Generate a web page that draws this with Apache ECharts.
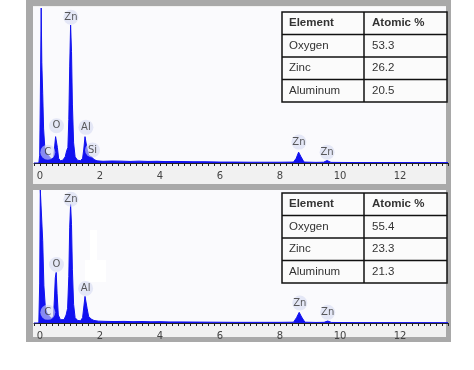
<!DOCTYPE html>
<html><head><meta charset="utf-8">
<script src="https://cdn.jsdelivr.net/npm/echarts@6/dist/echarts.min.js"></script>
<style>html,body{margin:0;padding:0;background:#fff}#c{width:474px;height:370px}</style>
</head><body><div id="c"></div>
<script>
// tick labels on the energy axis (keV)
const tickLabels = [0, 2, 4, 6, 8, 10, 12];

// spectrum 1 (top panel): [energy keV, counts %]
const spectrumTop = [
  [-0.2,0],[-0.04,0],[-0.01,5],[0.01,40],[0.04,100],[0.06,65],[0.09,45],[0.12,22],[0.16,10],[0.2,6],
  [0.24,6.5],[0.28,5],[0.33,3.5],[0.4,2.5],[0.46,4],[0.49,11],[0.52,17],[0.55,18],[0.58,10],[0.62,3],
  [0.68,1.5],[0.76,1.8],[0.84,4],[0.89,8],[0.93,10],[0.96,28],[0.99,62],[1.02,89],[1.05,72],[1.08,38],
  [1.12,13],[1.17,4],[1.25,1.8],[1.35,1.5],[1.42,3],[1.46,9],[1.5,17],[1.53,16],[1.57,9],[1.62,5],
  [1.68,3.8],[1.74,3.6],[1.8,2.2],[1.9,1.4],[2.1,1.1],[2.4,1.3],[2.7,1.2],[3.0,1.0],[3.3,1.2],[3.6,1.0],
  [3.9,1.1],[4.2,0.9],[4.5,1.0],[4.8,0.9],[5.1,0.8],[5.5,0.8],[6.0,0.6],[6.5,0.6],[7.0,0.5],[7.5,0.5],
  [8.0,0.5],[8.45,0.6],[8.54,3],[8.62,7],[8.7,4],[8.8,0.6],[9.2,0.4],[9.45,0.5],[9.57,1.6],[9.7,0.4],
  [10.5,0.3],[12,0.3],[13.6,0.3]
];
// spectrum 2 (bottom panel)
const spectrumBottom = [
  [-0.2,0],[-0.04,0],[-0.01,30],[0.01,100],[0.06,100],[0.09,62],[0.13,28],[0.18,11],[0.24,7],[0.3,5.5],
  [0.38,3.5],[0.45,5],[0.48,18],[0.51,34],[0.54,38],[0.57,22],[0.61,6],[0.68,2.5],[0.8,2.5],[0.87,6],
  [0.92,11],[0.96,35],[0.99,72],[1.02,89],[1.05,74],[1.08,40],[1.12,14],[1.17,4],[1.25,2],[1.35,1.6],
  [1.42,4],[1.46,12],[1.5,20],[1.53,19],[1.57,11],[1.62,5],[1.7,3],[1.8,1.9],[1.95,1.4],[2.2,1.2],
  [2.5,1.1],[2.8,1.2],[3.1,1.0],[3.4,1.1],[3.7,0.9],[4.0,1.0],[4.3,0.8],[4.7,0.8],[5.2,0.7],[5.8,0.6],
  [6.5,0.5],[7.2,0.5],[8.0,0.5],[8.45,0.6],[8.55,4],[8.64,8],[8.72,4.5],[8.83,0.6],[9.2,0.4],[9.47,0.5],
  [9.59,1.5],[9.72,0.4],[10.5,0.3],[12,0.3],[13.6,0.3]
];

// peak labels: [energy, height, element]
const peaksTop = [[0.26,7,'C'],[0.55,24,'O'],[1.03,94,'Zn'],[1.53,23,'Al'],[1.75,8.4,'Si'],[8.63,13.5,'Zn'],[9.57,7,'Zn']];
const peaksBottom = [[0.26,8,'C'],[0.55,44,'O'],[1.03,93,'Zn'],[1.52,26,'Al'],[8.66,15,'Zn'],[9.59,8,'Zn']];

// composition tables
const tableHeader = ['Element', 'Atomic %'];
const elementsTop = ['Oxygen', 'Zinc', 'Aluminum'];
const atomicTop = ['53.3', '26.2', '20.5'];
const elementsBottom = ['Oxygen', 'Zinc', 'Aluminum'];
const atomicBottom = ['55.4', '23.3', '21.3'];

const chart = echarts.init(document.getElementById('c'), null, {renderer: 'canvas'});

function xAxisCfg(gi) {
  return {
    gridIndex: gi, type: 'value', min: -0.2, max: 13.6, interval: 0.2,
    axisLine: {show: true, onZero: false, lineStyle: {color: '#222', width: 1}},
    axisTick: {show: true, length: 3, interval: 0, lineStyle: {color: '#222', width: 1}},
    splitLine: {show: false},
    axisLabel: {
      show: true, interval: 0, hideOverlap: false, margin: 8,
      fontSize: 10, color: '#444', fontFamily: 'DejaVu Sans',
      formatter: function (v) {
        const r = Math.round(v * 10) / 10;
        return tickLabels.indexOf(r) >= 0 ? String(r) : '';
      }
    }
  };
}
function yAxisCfg(gi) {
  return {gridIndex: gi, type: 'value', min: 0, max: 100, show: false};
}
function specSeries(data, gi) {
  return {
    type: 'line', xAxisIndex: gi, yAxisIndex: gi, data: data, showSymbol: false, smooth: false,
    lineStyle: {color: '#1212f0', width: 1}, areaStyle: {color: '#1212f0', opacity: 1}, z: 3, silent: true
  };
}
function peakSeries(data, gi) {
  return {
    type: 'scatter', xAxisIndex: gi, yAxisIndex: gi, data: data, symbol: 'circle', symbolSize: 15,
    itemStyle: {color: 'rgba(214,218,242,0.75)'}, z: 5, silent: true,
    label: {show: true, position: 'inside', formatter: p => p.data[2], fontSize: 10, color: '#333',
      fontFamily: 'DejaVu Sans'}
  };
}
function table(x, y, elems, vals) {
  const colW = [82, 83], rowH = 22.5;
  const children = [];
  const rows = [tableHeader].concat(elems.map((e, i) => [e, vals[i]]));
  children.push({type: 'rect', shape: {x: x, y: y, width: colW[0] + colW[1], height: rowH * rows.length},
    style: {fill: '#fbfbfb', stroke: '#111', lineWidth: 1.5}});
  for (let i = 1; i < rows.length; i++) {
    children.push({type: 'line', shape: {x1: x, y1: y + rowH * i, x2: x + colW[0] + colW[1], y2: y + rowH * i},
      style: {stroke: '#111', lineWidth: 1.5}});
  }
  children.push({type: 'line', shape: {x1: x + colW[0], y1: y, x2: x + colW[0], y2: y + rowH * rows.length},
    style: {stroke: '#111', lineWidth: 1.5}});
  rows.forEach((r, i) => {
    r.forEach((t, j) => {
      children.push({type: 'text', x: x + (j === 0 ? 7 : colW[0] + 8), y: y + rowH * i + rowH / 2,
        style: {text: t, fill: '#333', font: (i === 0 ? 'bold ' : '') + '11.5px "Liberation Sans"',
          verticalAlign: 'middle', align: 'left'}});
    });
  });
  return {type: 'group', z: 10, children: children};
}

chart.setOption({
  animation: false,
  backgroundColor: '#ffffff',
  grid: [
    {left: 34, top: 8, width: 414, height: 155},
    {left: 34, top: 190, width: 414, height: 133}
  ],
  xAxis: [xAxisCfg(0), xAxisCfg(1)],
  yAxis: [yAxisCfg(0), yAxisCfg(1)],
  series: [specSeries(spectrumTop, 0), specSeries(spectrumBottom, 1), peakSeries(peaksTop, 0), peakSeries(peaksBottom, 1)],
  graphic: [
    {type: 'rect', z: -5, shape: {x: 26, y: 0, width: 425, height: 342}, style: {fill: '#a9a9a9'}},
    {type: 'rect', z: -4, shape: {x: 33, y: 6, width: 413, height: 178}, style: {fill: '#f1f1f1'}},
    {type: 'rect', z: -3, shape: {x: 33, y: 7, width: 413, height: 156}, style: {fill: '#fafafd'}},
    {type: 'rect', z: -4, shape: {x: 33, y: 190, width: 413, height: 147}, style: {fill: '#f1f1f1'}},
    {type: 'rect', z: -3, shape: {x: 33, y: 190, width: 413, height: 133}, style: {fill: '#fafafd'}},
    {type: 'rect', z: -2, shape: {x: 90, y: 230, width: 7, height: 32}, style: {fill: '#ffffff'}},
    {type: 'rect', z: -2, shape: {x: 85, y: 260, width: 21, height: 22}, style: {fill: '#ffffff'}},
    table(282, 12, elementsTop, atomicTop),
    table(282, 193, elementsBottom, atomicBottom)
  ]
});
</script></body></html>
